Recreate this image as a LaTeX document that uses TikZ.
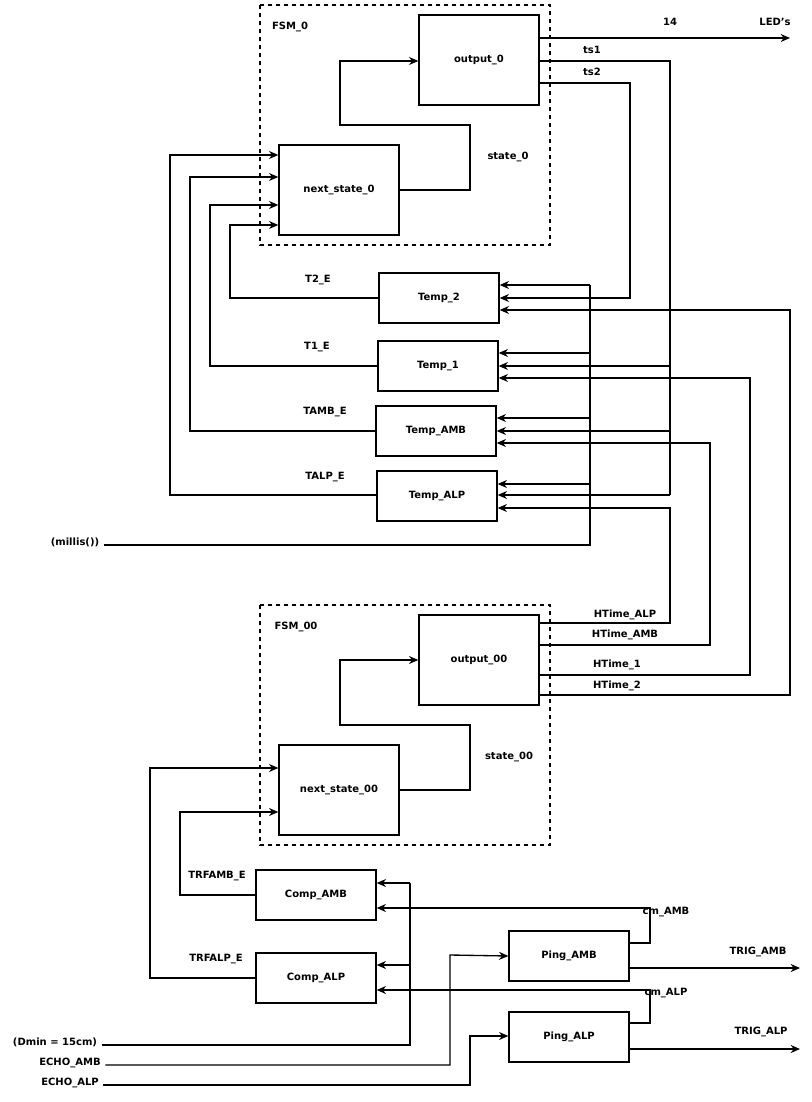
\documentclass[tikz,border=0pt]{standalone}
\usepackage{fontspec}
\setmainfont{DejaVu Sans}
\usetikzlibrary{arrows.meta}
\begin{document}
\begin{tikzpicture}[x=0.75pt,y=-0.75pt,
  font=\fontsize{7.5}{9}\selectfont\bfseries,
  box/.style={draw, line width=1pt, minimum width=90pt, minimum height=37.5pt, inner sep=0pt},
  fsm/.style={box, minimum height=67.5pt},
  wire/.style={line width=1pt},
  bus/.style={line width=1.6pt},
  arr/.style={-{Stealth[length=7pt,width=6pt]}},
  frame/.style={draw, dashed, line width=1pt}]
\useasboundingbox (0,0) rectangle (811,1102);
% FSM_0
\draw [frame] (260,5) rectangle (550,245);
\node at (290,27) {FSM\_0};
\node [fsm] (out0) at (479,60) {output\_0};
\node [fsm] (nxt0) at (339,190) {next\_state\_0};
\draw [wire, arr] (nxt0.east) -- (470,190) -- (470,125) -- (340,125) -- (340,61) -- (out0.west |- 0,61);
\node at (508,157) {state\_0};
\draw [wire, arr] (out0.east |- 0,38) -- (790,38);
\node at (670,22) {14};
\node at (775,22) {LED's};
\node at (592,50) {ts1};
\node at (592,72) {ts2};
% temporizadores
\node [box] (t2) at (439,298) {Temp\_2};
\node [box] (t1) at (438,366) {Temp\_1};
\node [box] (tamb) at (436,431) {Temp\_AMB};
\node [box] (talp) at (437,496) {Temp\_ALP};
\draw [bus] (out0.east |- 0,61) -- (670,61) -- (670,495);
\draw [wire, arr] (out0.east |- 0,83) -- (630,83) -- (630,298) -- (t2.east |- 0,298);
\draw [wire, arr] (670,366) -- (t1.east |- 0,366);
\draw [wire, arr] (670,431) -- (tamb.east |- 0,431);
\draw [wire, arr] (670,495) -- (talp.east |- 0,495);
% millis
\node (millis) at (75,542) {(millis())};
\draw [bus] (millis.east |- 0,545) -- (590,545) -- (590,285);
\draw [wire, arr] (590,285) -- (t2.east |- 0,285);
\draw [wire, arr] (590,353) -- (t1.east |- 0,353);
\draw [wire, arr] (590,418) -- (tamb.east |- 0,418);
\draw [wire, arr] (590,484) -- (talp.east |- 0,484);
% salidas de tiempo
\draw [wire, arr] (t2.west) -- (230,298) -- (230,225) -- (nxt0.west |- 0,225);
\node at (318,280) {T2\_E};
\draw [wire, arr] (t1.west) -- (210,366) -- (210,205) -- (nxt0.west |- 0,205);
\node at (317,347) {T1\_E};
\draw [wire, arr] (tamb.west) -- (190,431) -- (190,177) -- (nxt0.west |- 0,177);
\node at (325,412) {TAMB\_E};
\draw [wire, arr] (talp.west |- 0,495) -- (170,495) -- (170,155) -- (nxt0.west |- 0,155);
\node at (325,477) {TALP\_E};
% FSM_00
\draw [frame] (260,605) rectangle (550,845);
\node at (296,627) {FSM\_00};
\node [fsm] (out00) at (479,660) {output\_00};
\node [fsm] (nxt00) at (339,790) {next\_state\_00};
\draw [wire, arr] (nxt00.east) -- (470,790) -- (470,725) -- (340,725) -- (340,660) -- (out00.west);
\node at (509,757) {state\_00};
\draw [wire, arr] (out00.east |- 0,623) -- (670,623) -- (670,508) -- (talp.east |- 0,508);
\node at (625,615) {HTime\_ALP};
\draw [wire, arr] (out00.east |- 0,645) -- (710,645) -- (710,443) -- (tamb.east |- 0,443);
\node at (625,635) {HTime\_AMB};
\draw [wire, arr] (out00.east |- 0,675) -- (750,675) -- (750,378) -- (t1.east |- 0,378);
\node at (617,665) {HTime\_1};
\draw [wire, arr] (out00.east |- 0,695) -- (790,695) -- (790,310) -- (t2.east |- 0,310);
\node at (617,686) {HTime\_2};
% comparadores
\node [box] (camb) at (316,895) {Comp\_AMB};
\node [box] (calp) at (316,978) {Comp\_ALP};
\draw [wire, arr] (camb.west) -- (180,895) -- (180,812) -- (nxt00.west |- 0,812);
\node at (217,876) {TRFAMB\_E};
\draw [wire, arr] (calp.west) -- (150,978) -- (150,768) -- (nxt00.west |- 0,768);
\node at (216,959) {TRFALP\_E};
\node (dmin) at (55,1042) {(Dmin = 15cm)};
\draw [bus] (dmin.east |- 0,1045) -- (410,1045) -- (410,883);
\draw [wire, arr] (410,883) -- (camb.east |- 0,883);
\draw [wire, arr] (410,965) -- (calp.east |- 0,965);
% ping
\node [box] (pamb) at (569,956) {Ping\_AMB};
\node [box] (palp) at (569,1037) {Ping\_ALP};
\draw [wire, arr] (pamb.east |- 0,943) -- (650,943) -- (650,908) -- (camb.east |- 0,908);
\node at (666,912) {cm\_AMB};
\draw [wire, arr] (palp.east |- 0,1023) -- (650,1023) -- (650,990) -- (calp.east |- 0,990);
\node at (666,993) {cm\_ALP};
\draw [wire, arr] (pamb.east |- 0,968) -- (800,968);
\node at (758,952) {TRIG\_AMB};
\draw [wire, arr] (palp.east |- 0,1049) -- (800,1049);
\node at (761,1032) {TRIG\_ALP};
\node (eamb) at (70,1063) {ECHO\_AMB};
\draw [wire, arr] (eamb.east |- 0,1065) -- (450,1065) -- (450,955) -- (pamb.west);
\node (ealp) at (70,1083) {ECHO\_ALP};
\draw [wire, arr] (ealp.east |- 0,1085) -- (470,1085) -- (470,1036) -- (palp.west |- 0,1036);
\end{tikzpicture}
\end{document}
